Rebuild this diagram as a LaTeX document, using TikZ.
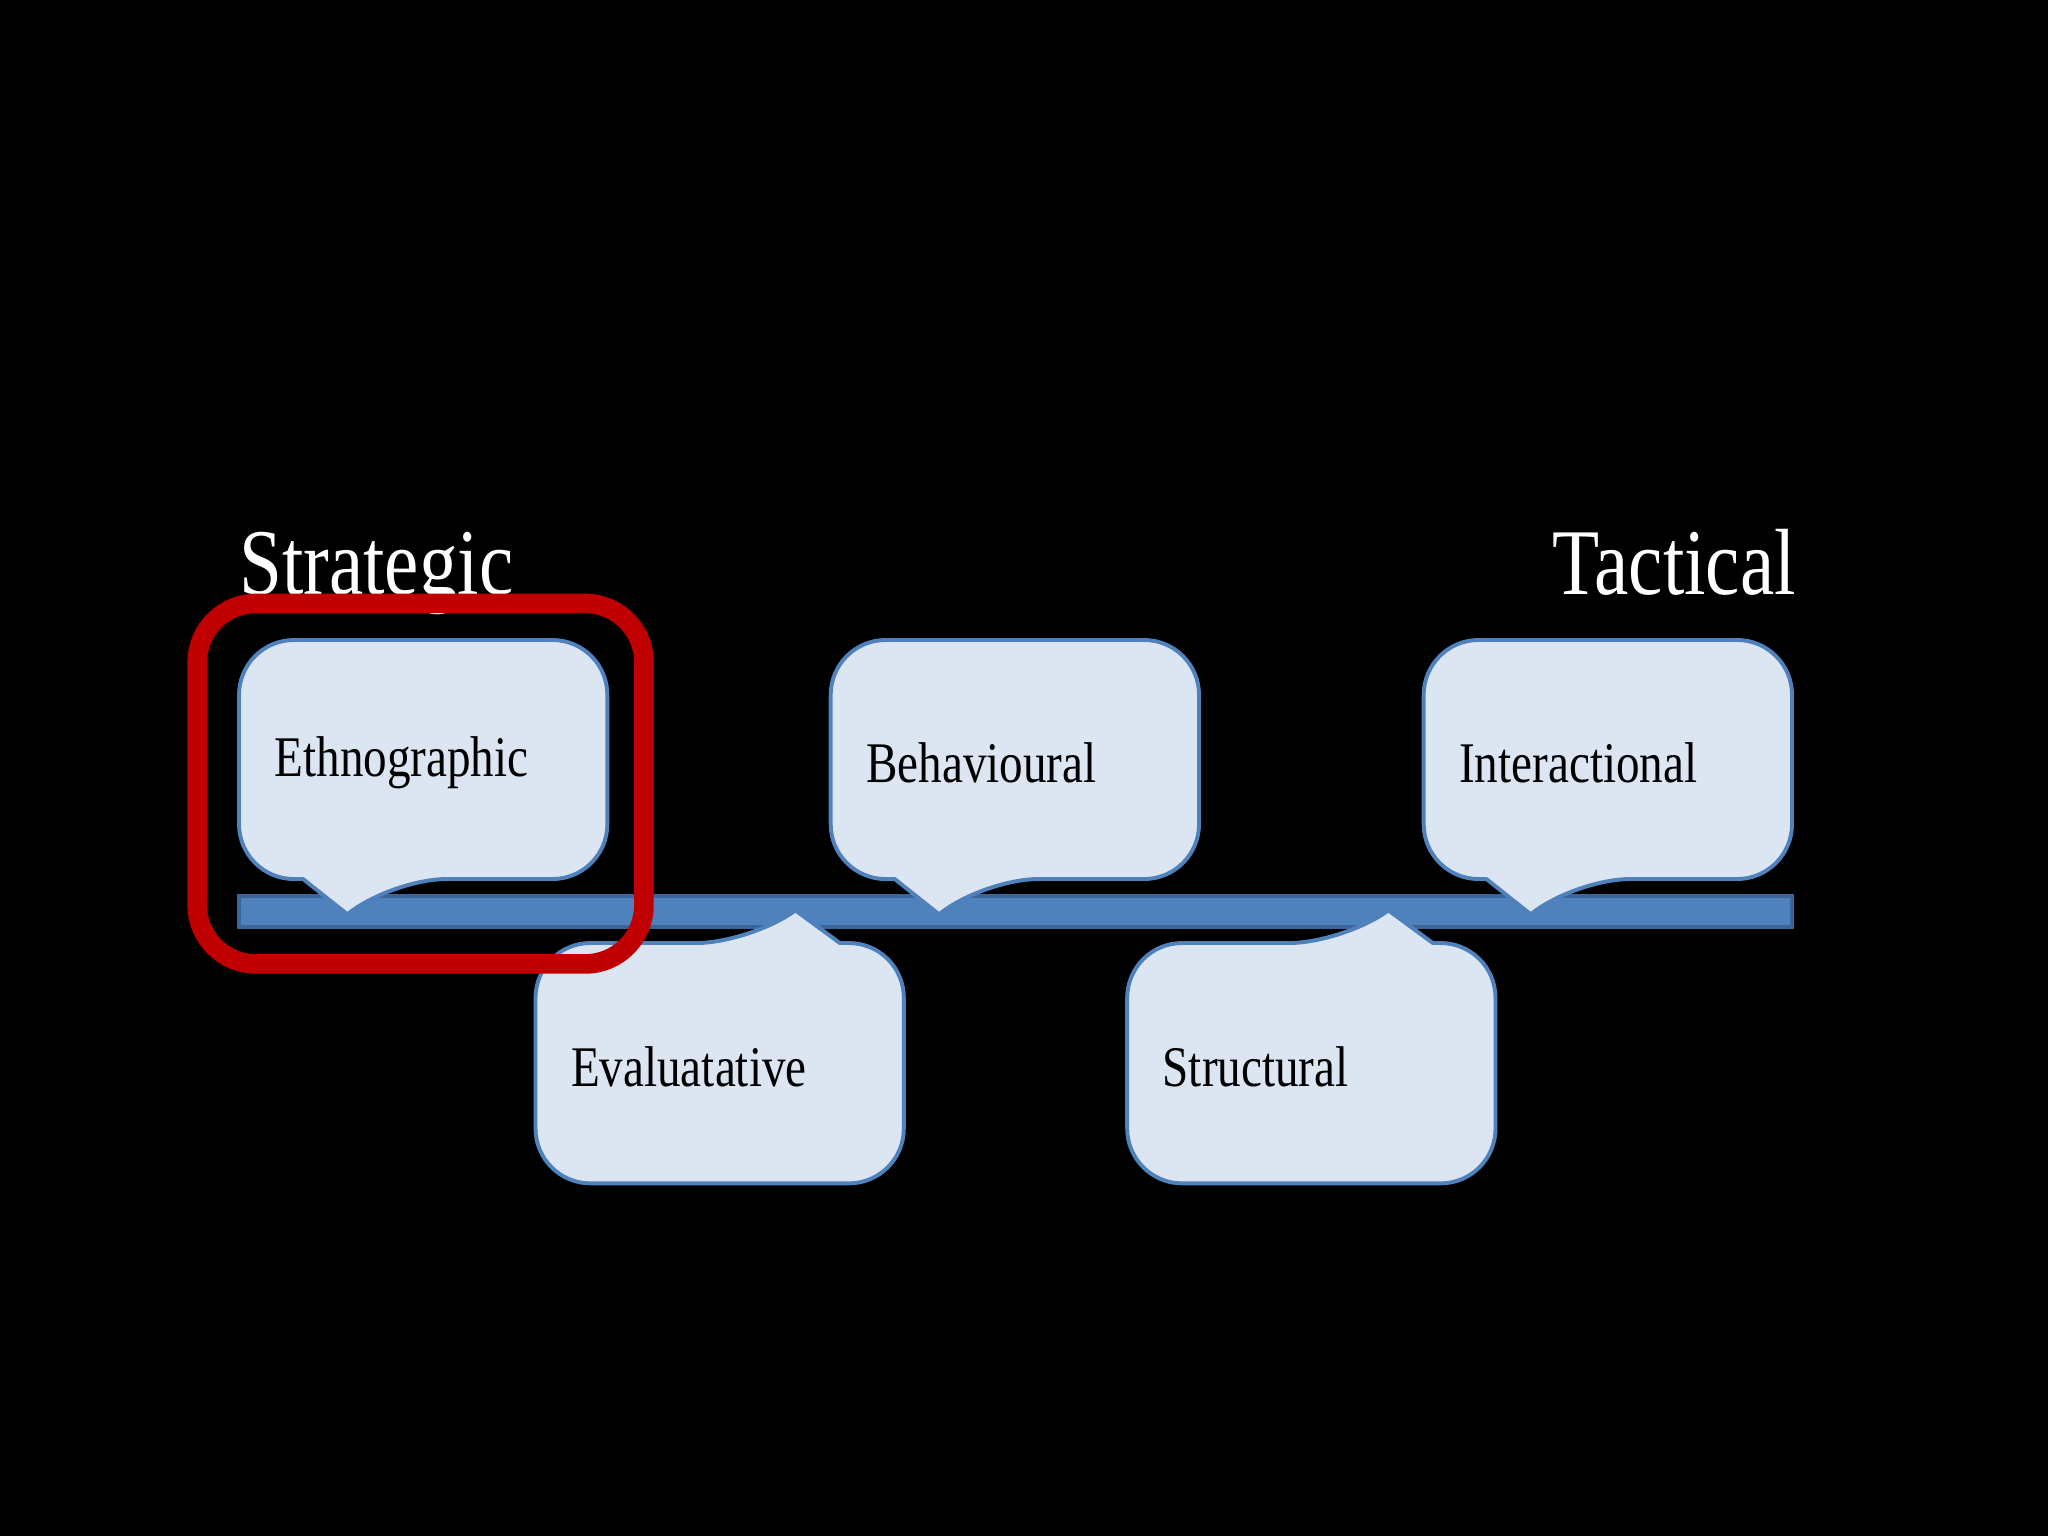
\documentclass[tikz,border=0pt]{standalone}
\usepackage{fontspec}
\setmainfont{Liberation Serif}[FakeStretch=0.82]
\definecolor{boxfill}{HTML}{DCE6F2}
\definecolor{boxline}{HTML}{4F81BD}
\definecolor{barline}{HTML}{3A659A}
\definecolor{redring}{HTML}{C00000}
\tikzset{
  callout/.style={draw=boxline,fill=boxfill,line width=3pt,line join=round},
  lbl/.style={anchor=west,font=\fontsize{44}{44}\selectfont,text=black,inner sep=0pt},
  title/.style={font=\fontsize{72}{72}\selectfont,text=white,inner sep=0pt,anchor=base}
}
\newcommand{\downcall}[3]{% left x, top y, tip x
  \draw[callout,rounded corners=42pt] (#1+141,#2) -- (#1+282,#2) -- (#1+282,#2+183) -- (#3+34,#2+183) [sharp corners] -- (#3,#2+210) -- (#3-34,#2+183) [rounded corners=42pt] -- (#1,#2+183) -- (#1,#2) -- cycle;}
\newcommand{\upcall}[3]{% left x, top y, tip x
  \draw[callout,rounded corners=42pt] (#1+141,#2+184) -- (#1,#2+184) -- (#1,#2) -- (#3-34,#2) [sharp corners] -- (#3,#2-25) -- (#3+34,#2) [rounded corners=42pt] -- (#1+282,#2) -- (#1+282,#2+184) -- cycle;}
\begin{document}
\begin{tikzpicture}[x=1pt,y=-1pt]
\fill[black] (0,0) rectangle (1568,1176);
\useasboundingbox (0,0) rectangle (1568,1176);
\node[title,anchor=base west] (strat) at (183,455) {Strategic};
\node[title,anchor=base east] (tact) at (1375,455) {Tactical};
\draw[fill=boxline,draw=barline,line width=3pt] (183,686) rectangle (1372,710);
\downcall{183}{490}{266}
\downcall{636}{490}{719}
\downcall{1090}{490}{1172}
\upcall{410}{722}{609}
\upcall{863}{722}{1063}
\node[lbl] (eth) at (210,584) {Ethnographic};
\node[lbl] (beh) at (663,584) {Behavioural};
\node[lbl] (int) at (1117,584) {Interactional};
\node[lbl] (eva) at (437,817) {Evaluatative};
\node[lbl] (str) at (890,817) {Structural};
\draw[redring,line width=15pt,rounded corners=45pt] (151,462) rectangle (493,738);
\end{tikzpicture}
\end{document}
